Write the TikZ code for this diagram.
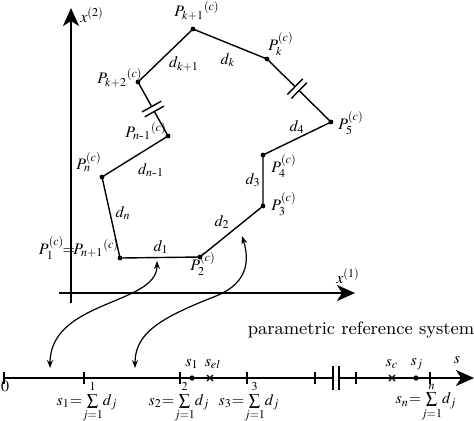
\documentclass[tikz,border=0pt]{standalone}
\usepackage{mathptmx}
\usepackage{amsmath}
\usetikzlibrary{calc,arrows.meta}
\def\segbreak(#1)(#2)(#3){%
	\coordinate (brk) at ($(#1)!#3!(#2)$);
	\coordinate (brka) at ($(brk)!1.4pt!(#1)$);
	\coordinate (brkb) at ($(brk)!1.4pt!(#2)$);
	\draw[poly] (#1) -- (brka) ($(brka)!5.5pt!90:(#1)$) -- ($(brka)!5.5pt!-90:(#1)$);
	\draw[poly] (#2) -- (brkb) ($(brkb)!5.5pt!90:(#2)$) -- ($(brkb)!5.5pt!-90:(#2)$);}

\begin{document}
\begin{tikzpicture}[x=0.5pt,y=-0.5pt,
	axis/.style={line width=1pt,-{Stealth[length=9pt,width=8pt,inset=2.5pt]}},
	poly/.style={line width=0.7pt},
	link/.style={line width=0.6pt,{Stealth[length=4pt,width=3pt]}-{Stealth[length=4pt,width=3pt]}},
	lbl/.style={inner sep=0pt,font=\fontsize{8}{9.6}\selectfont},
	sumlbl/.style={inner sep=0pt,font=\fontsize{8}{9}\selectfont},
	tick/.style={line width=0.6pt}]
			%%%%% START %%%%%
			\useasboundingbox (0,0) rectangle (474,420);
			
			% plane axes
			\coordinate (xa0) at (59,293);
			\coordinate (xa1) at (355,293);
			\coordinate (ya0) at (71,303);
			\coordinate (ya1) at (71,8);
			\draw[axis] (xa0) -- (xa1);
			\draw[axis] (ya0) -- (ya1);
			\node[lbl] (lx1) at (348,276) {$x^{(1)}$};
			\node[lbl] (lx2) at (92,15) {$x^{(2)}$};
			
			% polygon points
			\coordinate (P1) at (120,258);
			\coordinate (P2) at (200,257);
			\coordinate (P3) at (263,206);
			\coordinate (P4) at (263,155);
			\coordinate (P5) at (331,122);
			\coordinate (Pk) at (267,59);
			\coordinate (Pk1) at (193,29);
			\coordinate (Pk2) at (138,82);
			\coordinate (Pn1) at (168,136);
			\coordinate (Pn) at (102,177);
			
			\draw[poly] (Pn) -- (P1) -- (P2) -- (P3) -- (P4) -- (P5);
			\draw[poly] (Pk) -- (Pk1) -- (Pk2);
			\draw[poly] (Pn1) -- (Pn);
			\segbreak(P5)(Pk)(0.53)
			\segbreak(Pk2)(Pn1)(0.5)
			\foreach \p in {P1,P2,P3,P4,P5,Pk,Pk1,Pk2,Pn1,Pn}
				\fill (\p) circle (2.4);
			
			\node[lbl] (lP1) at (79,248) {$P_1^{(c)}\!{=}\!P_{n+1}{}^{(c)}$};
			\node[lbl] (lP2) at (203,264) {$P_2^{(c)}$};
			\node[lbl] (lP3) at (284,204) {$P_3^{(c)}$};
			\node[lbl] (lP4) at (284,166) {$P_4^{(c)}$};
			\node[lbl] (lP5) at (351,123) {$P_5^{(c)}$};
			\node[lbl] (lPk) at (281,44) {$P_k^{(c)}$};
			\node[lbl] (lPk1) at (197,11) {$P_{k+1}{}^{(c)}$};
			\node[lbl] (lPk2) at (120,78) {$P_{k+2}{}^{(c)}$};
			\node[lbl] (lPn1) at (146,131) {$P_{n\text{-}1}{}^{(c)}$};
			\node[lbl] (lPn) at (89,162) {$P_n^{(c)}$};
			
			\node[lbl] (ld1) at (161,247) {$d_1$};
			\node[lbl] (ld2) at (222,222) {$d_2$};
			\node[lbl] (ld3) at (253,180) {$d_3$};
			\node[lbl] (ld4) at (297,127) {$d_4$};
			\node[lbl] (ldk) at (228,60) {$d_k$};
			\node[lbl] (ldk1) at (184,64) {$d_{k+1}$};
			\node[lbl] (ldn1) at (151,170) {$d_{n\text{-}1}$};
			\node[lbl] (ldn) at (123,213) {$d_n$};
			
			% parametric axis
			\coordinate (sa0) at (4,378);
			\coordinate (sa1) at (474,378);
			\coordinate (sbrka) at (333,378);
			\coordinate (sbrkb) at (339,378);
			\draw[line width=1pt] (sa0) -- (sbrka);
			\draw[axis] (sbrkb) -- (sa1);
			\draw[tick] (333,366) -- (333,390);
			\draw[tick] (339,366) -- (339,390);
			\foreach \t in {4,84,180,247,315,356,430}
				\draw[tick] (\t,372) -- (\t,384);
			
			\fill (192,378) circle (2.6);
			\fill (416,378) circle (2.6);
			\draw[tick] (207,375) -- (213,381) (207,381) -- (213,375);
			\draw[tick] (389,375) -- (395,381) (389,381) -- (395,375);
			
			\node[lbl] (ls1) at (192,364) {$s_1$};
			\node[lbl] (lsel) at (213,364) {$s_{el}$};
			\node[lbl] (lsc) at (392,364) {$s_c$};
			\node[lbl] (lsj) at (417,364) {$s_j$};
			\node[lbl] (ls) at (457,360) {$s$};
			\node[lbl] (l0) at (5,386) {0};
			\node[anchor=base,inner sep=0pt,font=\fontsize{9}{11}\selectfont] (title) at (361,334) {parametric reference system};
			
			\node[sumlbl] (sum1) at (87,402) {$s_1{=}\!\sum\limits_{j=1}^{1}\! d_j$};
			\node[sumlbl] (sum2) at (179,402) {$s_2{=}\!\sum\limits_{j=1}^{2}\! d_j$};
			\node[sumlbl] (sum3) at (249,402) {$s_3{=}\!\sum\limits_{j=1}^{3}\! d_j$};
			\node[sumlbl] (sumn) at (426,402) {$s_n{=}\!\sum\limits_{j=1}^{n}\! d_j$};
			
			% links between segments and arc length
			\coordinate (c1top) at (157,261);
			\coordinate (c1bot) at (50,368);
			\coordinate (c2top) at (242,236);
			\coordinate (c2mid) at (216,296);
			\coordinate (c2bot) at (135,368);
			\draw[link] (c1bot) .. controls (50,300) and (157,305) .. (c1top);
			\draw[link] (c2bot) .. controls (135,333) and (160,318) .. (c2mid) .. controls (241,286) and (252,268) .. (c2top);
			
			%%%%% END %%%%%
\end{tikzpicture}
\end{document}
